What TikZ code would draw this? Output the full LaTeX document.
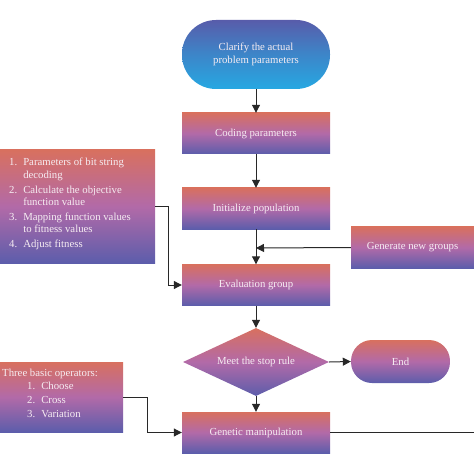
\documentclass[tikz,border=0pt]{standalone}
\usepackage{fontspec}
\setmainfont{Liberation Serif}
\usetikzlibrary{arrows.meta,shapes.geometric}

\definecolor{coral}{RGB}{216,112,95}
\definecolor{mauve}{RGB}{178,106,168}
\definecolor{slate}{RGB}{92,93,171}
\definecolor{deepblue}{RGB}{88,92,170}
\definecolor{skyblue}{RGB}{38,168,226}
\definecolor{paletext}{RGB}{246,236,242}
\definecolor{wire}{RGB}{40,40,40}

\tikzset{
  shadebox/.style={top color=coral, bottom color=slate, middle color=mauve,
    draw=none, text=paletext, font=\fontsize{10.8}{12.5}\selectfont, inner sep=0pt},
  stepbox/.style={shadebox, rectangle, minimum width=148bp, minimum height=41bp},
  flowline/.style={wire, line width=1bp},
  flowarrow/.style={flowline, -{Triangle[length=8bp,width=8bp]}}
}

\begin{document}
\begin{tikzpicture}[x=1bp,y=-1bp]
            \useasboundingbox (0,0) rectangle (474,474);

            % main column
            \node[shadebox, top color=deepblue, bottom color=skyblue, middle color=deepblue!45!skyblue,
                  rectangle, rounded corners=34bp, minimum width=148bp, minimum height=69bp,
                  align=center] (clarify) at (256,54.5) {Clarify the actual\\problem parameters};
            \node[stepbox] (coding) at (256,133.5) {Coding parameters};
            \node[stepbox] (init) at (256,208.5) {Initialize population};
            \node[stepbox] (eval) at (256,285) {Evaluation group};
            \node[shadebox, diamond, aspect=2.15, minimum width=146bp, minimum height=68bp] (stop) at (256,362) {Meet the stop rule};
            \node[stepbox] (genetic) at (256,432.5) {Genetic manipulation};

            % side boxes
            \node[shadebox, rectangle, rounded corners=21bp, minimum width=99bp, minimum height=43bp] (end) at (400.5,361.5) {End};
            \node[stepbox, minimum width=123bp] (newgroups) at (412.5,247.5) {Generate new groups};
            \node[shadebox, rectangle, minimum width=155bp, minimum height=113bp] (fitbox) at (77.5,206.5) {};
            \node[shadebox, rectangle, minimum width=123bp, minimum height=70bp] (opbox) at (61.5,397) {};

            % box texts
            \node[anchor=base west, text=paletext, inner sep=0pt, font=\fontsize{10.8}{12.5}\selectfont] (fittext) at (9,166)
              {\begin{tabular}[t]{@{}r@{\hspace{6bp}}l@{}}
                1. & Parameters of bit string\\
                   & decoding\\[2.5bp]
                2. & Calculate the objective\\
                   & function value\\[2bp]
                3. & Mapping function values\\
                   & to fitness values\\[2.5bp]
                4. & Adjust fitness
              \end{tabular}};
            \node[anchor=base west, text=paletext, inner sep=0pt, font=\fontsize{10.8}{13.8}\selectfont] (optext) at (2,376)
              {\begin{tabular}[t]{@{\hspace{25bp}}r@{\hspace{6bp}}l@{}}
                \multicolumn{2}{@{}l@{}}{Three basic operators:}\\
                1. & Choose\\
                2. & Cross\\
                3. & Variation
              \end{tabular}};

            % connectors
            \coordinate (join) at (256,248);
            \coordinate (rim) at (474,432.5);
            \draw[flowarrow] (clarify) -- (coding);
            \draw[flowarrow] (coding) -- (init);
            \draw[flowarrow] (init) -- (eval);
            \draw[flowarrow] (newgroups.west) -- (join);
            \draw[flowarrow] (eval) -- (stop);
            \draw[flowarrow] (stop) -- (genetic);
            \draw[flowarrow] (stop.east) -- (end.west);
            \draw[flowarrow] (fitbox.east) -- ++(13,0) |- (eval.west);
            \draw[flowarrow] (opbox.east) -- ++(24,0) |- (genetic.west);
            \draw[flowline] (genetic.east) -- (rim);
        \end{tikzpicture}
\end{document}
